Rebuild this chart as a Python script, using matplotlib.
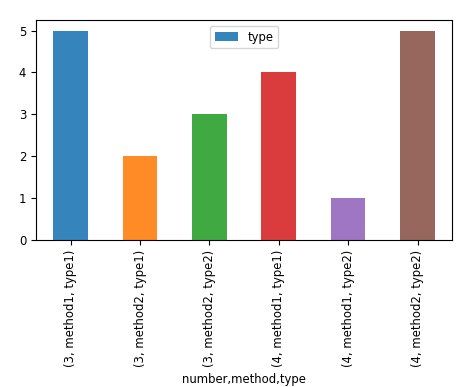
import matplotlib
matplotlib.use('Agg')
import matplotlib.pyplot as plt

# datos del gráfico
numeros = [3, 3, 3, 4, 4, 4]
metodos = ['method1', 'method2', 'method2', 'method1', 'method1', 'method2']
tipos = ['type1', 'type1', 'type2', 'type1', 'type2', 'type2']
valores = [5, 2, 3, 4, 1, 5]
colores = ['tab:blue', 'tab:orange', 'tab:green', 'tab:red', 'tab:purple', 'tab:brown']

etiquetas = ['(%d, %s, %s)' % (n, m, t) for n, m, t in zip(numeros, metodos, tipos)]

plt.rcParams['font.size'] = 8.4

fig, ax = plt.subplots(figsize=(4.74, 3.87), dpi=100)
posiciones = range(len(valores))
ax.bar(posiciones, valores, width=0.5, color=colores, alpha=0.9, label='type')
ax.set_xticks(list(posiciones))
ax.set_xticklabels(etiquetas, rotation=90)
ax.set_xlim(-0.5, len(valores) - 0.5)
ax.set_xlabel('number,method,type')
ax.legend(loc='upper center')

fig.subplots_adjust(left=0.076, right=0.954, top=0.948, bottom=0.38)
fig.savefig('out.png')
